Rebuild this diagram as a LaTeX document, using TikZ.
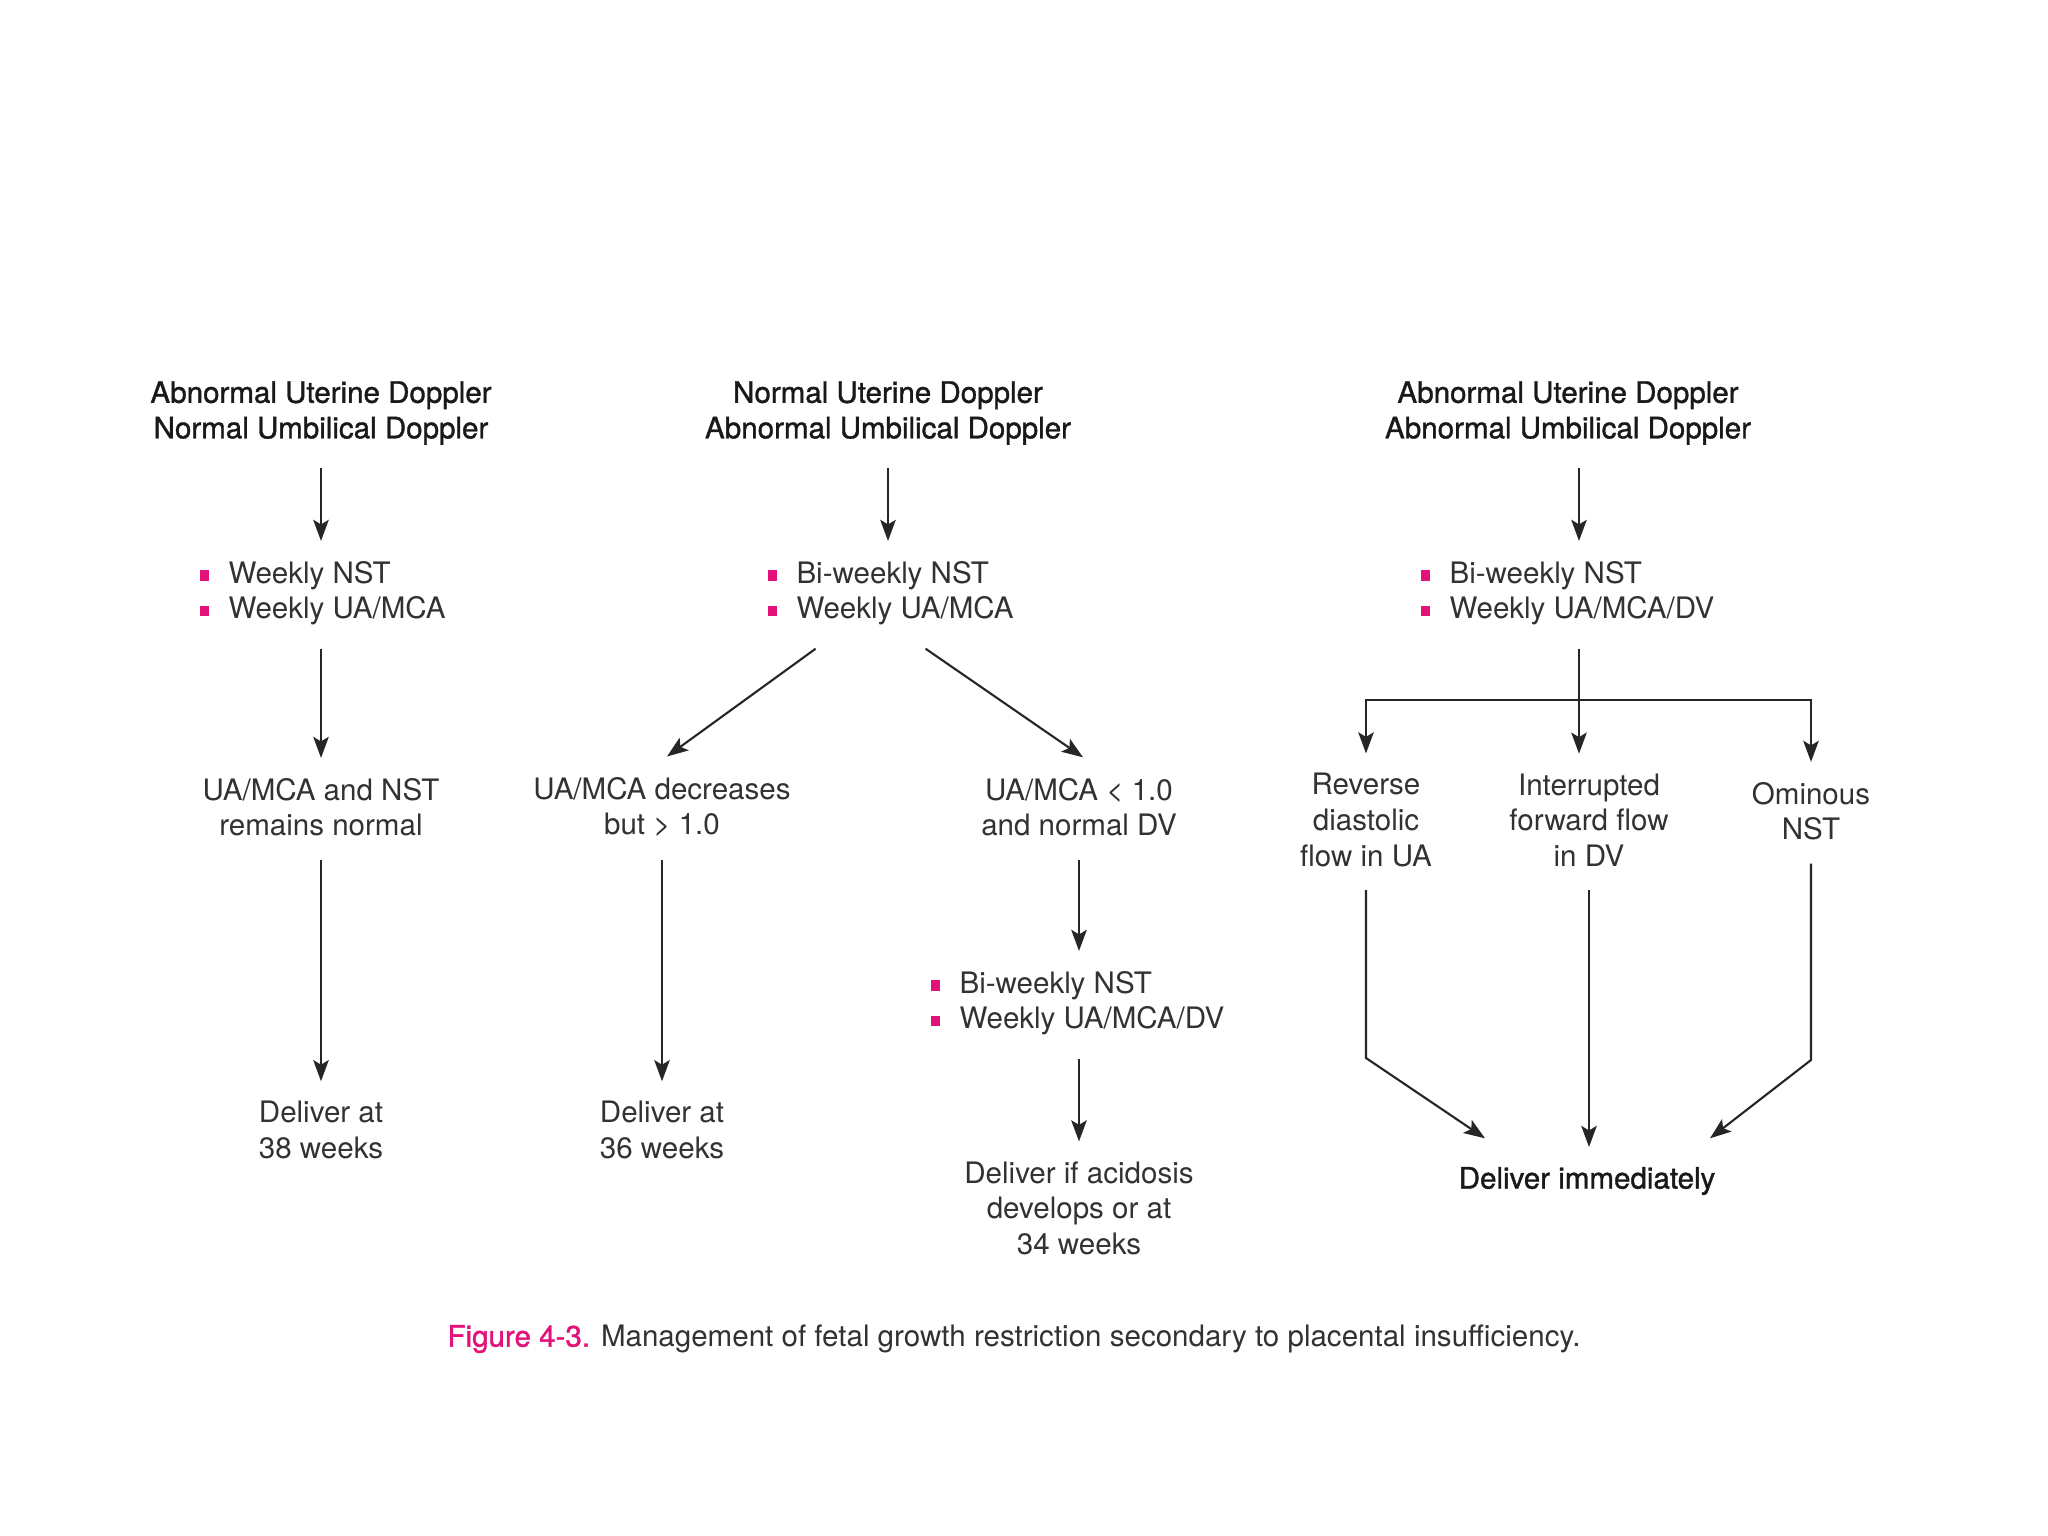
\documentclass[tikz,border=0pt]{standalone}
\usepackage{fontspec}
\setmainfont{TeX Gyre Heros}
\newfontfamily\medfont{TeX Gyre Heros}[FakeBold=1.2]
\usepackage{xcolor}
\usetikzlibrary{arrows.meta,positioning,calc}
\definecolor{figpink}{RGB}{226,18,122}
\definecolor{txtgray}{RGB}{50,50,50}
\newcommand{\sqb}{{\color{figpink}\rule[0.7pt]{2.7pt}{2.9pt}}\hspace{5.5pt}}

\begin{document}
\begin{tikzpicture}[x=0.01cm, y=-0.01cm, >={Stealth[length=6pt,width=4.4pt,inset=1.3pt]}]
\tikzset{HeadStyle/.style = {align=center, inner sep=0pt, font=\medfont\fontsize{8.4}{10.1}\selectfont, text=black!90}}
\tikzset{TextStyle/.style = {align=center, inner sep=0pt, font=\fontsize{8.4}{10.1}\selectfont, text=txtgray}}
\tikzset{ListStyle/.style = {TextStyle, align=left, anchor=west}}
\tikzset{EdgeStyle/.style = {->, line width=0.6pt, draw=black!85, shorten <=6.5pt, shorten >=5.5pt}}
  \fill[white] (0,0) rectangle (2048,1536);
  % left column
  \node[HeadStyle] (h1) at (321,413) {Abnormal Uterine Doppler\\Normal Umbilical Doppler};
  \node[ListStyle] (b1) at (199,593) {\sqb Weekly NST\\\sqb Weekly UA/MCA};
  \node[TextStyle] (n1) at (321,807) {UA/MCA and NST\\remains normal};
  \node[TextStyle] (d1) at (321,1130) {Deliver at\\38 weeks};
  \draw[EdgeStyle] (h1) -- (h1 |- b1.north);
  \draw[EdgeStyle] (b1.south -| h1) -- (n1);
  \draw[EdgeStyle] (n1) -- (d1);
  % middle column
  \node[HeadStyle] (h2) at (888,413) {Normal Uterine Doppler\\Abnormal Umbilical Doppler};
  \node[ListStyle] (b2) at (767,593) {\sqb Bi-weekly NST\\\sqb Weekly UA/MCA};
  \node[TextStyle] (n2) at (662,807) {UA/MCA decreases\\but > 1.0};
  \node[TextStyle] (n3) at (1079,807) {UA/MCA < 1.0\\and normal DV};
  \node[TextStyle] (d2) at (662,1130) {Deliver at\\36 weeks};
  \node[ListStyle] (b4) at (930,1003) {\sqb Bi-weekly NST\\\sqb Weekly UA/MCA/DV};
  \node[TextStyle] (d3) at (1079,1208) {Deliver if acidosis\\develops or at\\34 weeks};
  \draw[EdgeStyle] (h2) -- (h2 |- b2.north);
  \draw[EdgeStyle, shorten <=0pt, shorten >=0pt] ([shift={(-75,23)}]b2.south) -- ([shift={(5,-20)}]n2.north);
  \draw[EdgeStyle, shorten <=0pt, shorten >=0pt] ([shift={(35,23)}]b2.south) -- ([shift={(4,-20)}]n3.north);
  \draw[EdgeStyle] (n2) -- (d2);
  \draw[EdgeStyle] (n3) -- (n3 |- b4.north);
  \draw[EdgeStyle] (b4.south -| n3) -- (d3);
  % right column
  \node[HeadStyle] (h3) at (1568,413) {Abnormal Uterine Doppler\\Abnormal Umbilical Doppler};
  \node[ListStyle] (b3) at (1420,593) {\sqb Bi-weekly NST\\\sqb Weekly UA/MCA/DV};
  \node[TextStyle] (r1) at (1366,820) {Reverse\\diastolic\\flow in UA};
  \node[TextStyle] (r2) at (1589,820) {Interrupted\\forward flow\\in DV};
  \node[TextStyle] (r3) at (1811,811) {Ominous\\NST};
  \node[HeadStyle] (di) at (1587,1181) {Deliver immediately};
  \coordinate (split) at (1579,700);
  \coordinate (kL) at (1366,1058);
  \coordinate (kR) at (1811,1060);
  \draw[EdgeStyle] (h3.south -| split) -- (b3.north -| split);
  \draw[EdgeStyle, -, shorten >=0pt] (b3.south -| split) -- (split);
  \draw[EdgeStyle, shorten <=0pt] (split) -- (split |- r2.north);
  \draw[EdgeStyle, shorten <=0pt] (split) -| (r1.north);
  \draw[EdgeStyle, shorten <=0pt] (split) -| (r3.north);
  \draw[EdgeStyle, shorten >=0pt] (r1.south -| kL) -- (kL) -- ([shift={(-102,-28)}]di.north);
  \draw[EdgeStyle] (r2) -- (r2 |- di.north);
  \draw[EdgeStyle, shorten >=0pt] (r3.south -| kR) -- (kR) -- ([shift={(123,-28)}]di.north);
  % caption
  \node[TextStyle] (cap) at (1014,1339) {{\medfont\color{figpink}Figure 4-3.} Management of fetal growth restriction secondary to placental insufficiency.};
\end{tikzpicture}
\end{document}
